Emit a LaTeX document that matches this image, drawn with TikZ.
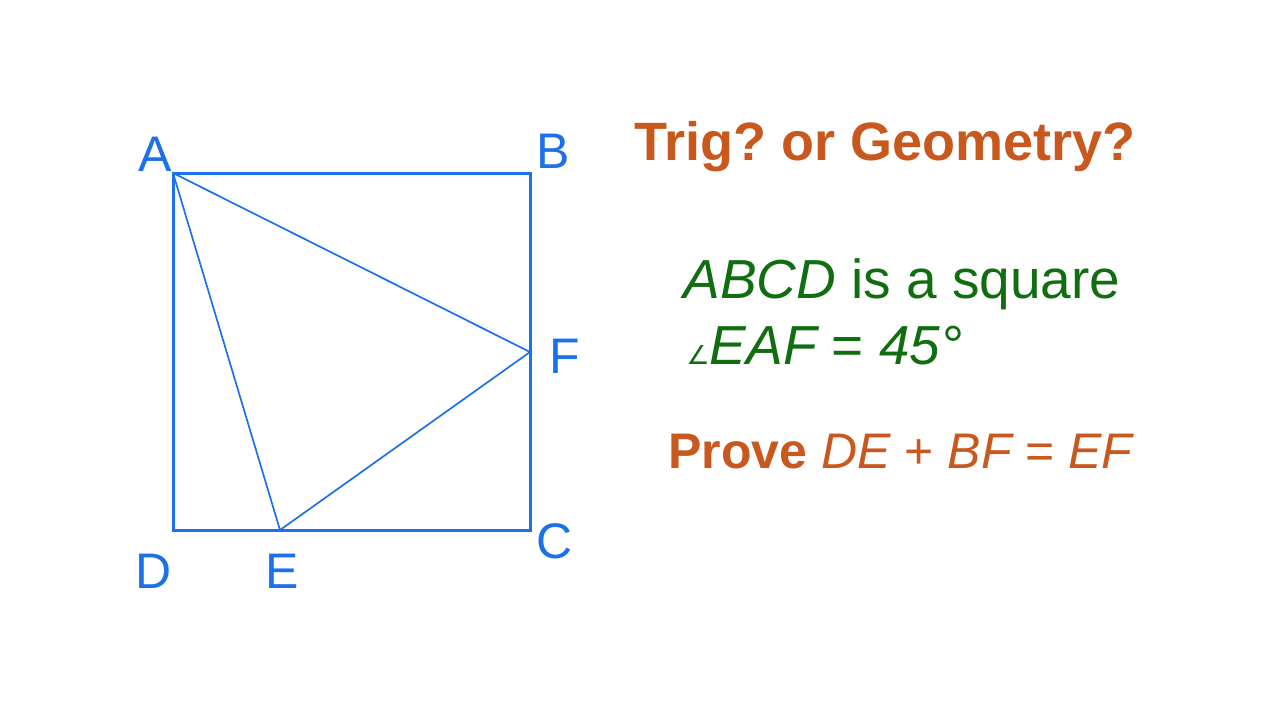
\documentclass[tikz,border=0pt]{standalone}
\usepackage{fontspec}
\setmainfont{Liberation Sans}
\newfontfamily\symfont{DejaVu Sans}
\usetikzlibrary{positioning}
\frenchspacing

\definecolor{penblue}{RGB}{28,112,232}
\definecolor{titleorange}{RGB}{200,88,30}
\definecolor{textgreen}{RGB}{16,110,16}

\tikzset{
  side/.style={penblue, line width=1.5pt},
  chord/.style={penblue, line width=0.85pt},
  vlabel/.style={penblue, font=\fontsize{25}{25}\selectfont},
  caption/.style={anchor=base west, inner sep=0pt, font=\fontsize{27}{27}\selectfont}
}

\begin{document}
\begin{tikzpicture}[x=0.5pt,y=-0.5pt]
\useasboundingbox (0,0) rectangle (1280,720);

% square ABCD
\coordinate (A) at (173,173);
\coordinate (B) at (530,173);
\coordinate (C) at (530,530);
\coordinate (D) at (173,530);
\coordinate (E) at (280,530);
\coordinate (F) at (530,352);
\draw[side] (A) -- (B) -- (C) -- (D) -- cycle;

% triangle AEF
\draw[chord] (A) -- (E) -- (F) -- cycle;

% vertex letters
\node[vlabel] (lA) at (155,154) {A};
\node[vlabel] (lB) at (553,151) {B};
\node[vlabel] (lC) at (555,541) {C};
\node[vlabel] (lD) at (154,571) {D};
\node[vlabel] (lE) at (282,571) {E};
\node[vlabel] (lF) at (565,356) {F};

% text
\node[caption, titleorange] (title) at (634,160) {\bfseries Trig? or Geometry?};
\node[caption, textgreen, font=\fontsize{27.5}{27.5}\selectfont] (given) at (683,298) {\itshape ABCD\upshape{} is a square};
\node[caption, textgreen, font=\fontsize{27.5}{27.5}\selectfont] (angle) at (686,364) {{\symfont\fontsize{13}{13}\selectfont ∠}\itshape EAF\upshape{} = \itshape 45°};
\node[caption, titleorange, font=\fontsize{25}{25}\selectfont] (prove) at (668,468) {\bfseries Prove \mdseries\itshape DE\upshape{} + \itshape BF\upshape{} = \itshape EF};
\end{tikzpicture}
\end{document}
